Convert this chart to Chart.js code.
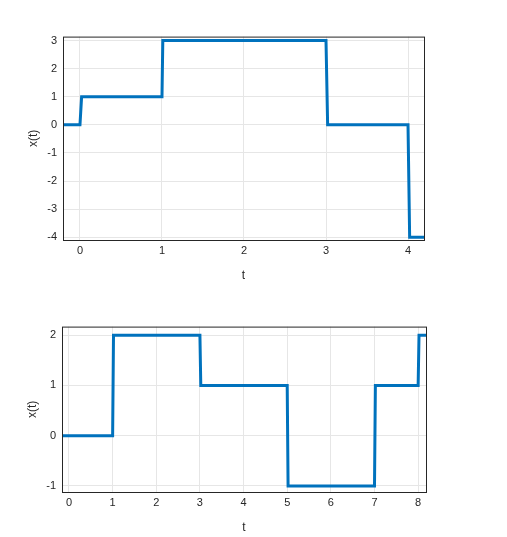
<!DOCTYPE html>
<html><head>
<script src="https://cdn.jsdelivr.net/npm/chart.js@4"></script>
<style>
body{margin:0;background:#fff;width:507px;height:537px;position:relative;overflow:hidden}
.box{position:absolute}
</style></head><body>
<div class="box" id="b1" style="left:24px;top:24px;width:406px;height:261px"><canvas id="c1"></canvas></div>
<div class="box" id="b2" style="left:23px;top:314px;width:409px;height:223px"><canvas id="c2"></canvas></div>
<script>
const t1 = [-0.2, 0, 0.02, 1, 1.01, 3, 3.02, 4, 4.02, 4.2];
const x1 = [0, 0, 1, 1, 3, 3, 0, 0, -4, -4];
const xTicks1 = [0, 1, 2, 3, 4];
const yTicks1 = [-4, -3, -2, -1, 0, 1, 2, 3];
const t2 = [-0.15, 1, 1.02, 3, 3.02, 5, 5.02, 7, 7.02, 8, 8.02, 8.2];
const x2 = [0, 0, 2, 2, 1, 1, -1, -1, 1, 1, 2, 2];
const xTicks2 = [0, 1, 2, 3, 4, 5, 6, 7, 8];
const yTicks2 = [-1, 0, 1, 2];

const frame = {
  id: 'frame',
  afterDraw(c) {
    const a = c.chartArea, g = c.ctx;
    g.save(); g.strokeStyle = '#262626'; g.lineWidth = 1;
    g.strokeRect(a.left + 0.5, a.top + 0.5, a.right - a.left, a.bottom - a.top);
    g.restore();
  }
};
const setTicks = vals => s => { s.ticks = vals.map(v => ({ value: v })); };
const font = { family: 'Liberation Sans, Arial', size: 11 };

function make(id, t, x, xr, yr, xt, yt) {
  new Chart(document.getElementById(id), {
    type: 'scatter',
    data: { datasets: [{ data: t.map((v, i) => ({ x: v, y: x[i] })), showLine: true,
      borderColor: '#0072BD', borderWidth: 3, pointRadius: 0, tension: 0 }] },
    options: {
      responsive: true, maintainAspectRatio: false, animation: false,
      layout: { padding: { right: 6, top: 0 } },
      plugins: { legend: { display: false }, tooltip: { enabled: false } },
      scales: {
        x: { type: 'linear', min: xr[0], max: xr[1], afterBuildTicks: setTicks(xt), afterFit: s => { s.height = 45; },
          ticks: { color: '#262626', font, maxRotation: 0, padding: 4 },
          grid: { color: '#e6e6e6', drawTicks: false }, border: { display: false },
          title: { display: true, text: 't', color: '#262626', font: { ...font, size: 12 }, padding: 2 } },
        y: { min: yr[0], max: yr[1], afterBuildTicks: setTicks(yt), afterFit: s => { s.width = 39; },
          ticks: { color: '#262626', font, padding: 6 },
          grid: { color: '#e6e6e6', drawTicks: false }, border: { display: false },
          title: { display: true, text: 'x(t)', color: '#262626', font: { ...font, size: 12 }, padding: 2 } }
      }
    },
    plugins: [frame]
  });
}
make('c1', t1, x1, [-0.207, 4.195], [-4.1, 3.14], xTicks1, yTicks1);
make('c2', t2, x2, [-0.16, 8.18], [-1.12, 2.17], xTicks2, yTicks2);
</script>
</body></html>
